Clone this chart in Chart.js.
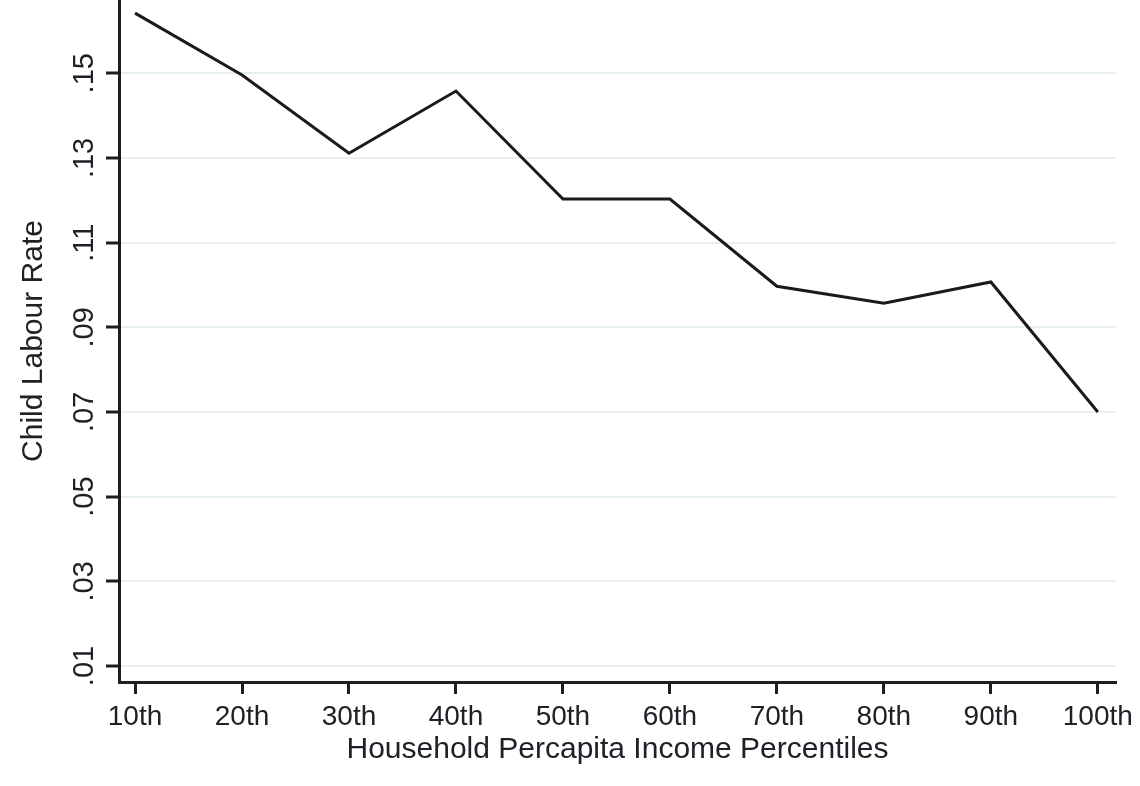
<!DOCTYPE html>
<html>
<head>
<meta charset="utf-8">
<script src="https://cdn.jsdelivr.net/npm/chart.js@4/dist/chart.umd.min.js"></script>
<style>
  html, body { margin: 0; padding: 0; background: #fff; }
  canvas { display: block; }
</style>
</head>
<body>
<canvas id="lineChart" width="1140" height="786"></canvas>
<script>
// data
const percentiles = [10, 20, 30, 40, 50, 60, 70, 80, 90, 100];
const xLabels = ['10th', '20th', '30th', '40th', '50th', '60th', '70th', '80th', '90th', '100th'];
const childLabourRate = [0.1642, 0.1496, 0.1311, 0.1458, 0.1203, 0.1203, 0.0997, 0.0957, 0.1007, 0.0700];
const yTicks = [0.01, 0.03, 0.05, 0.07, 0.09, 0.11, 0.13, 0.15];
const yLabels = ['.01', '.03', '.05', '.07', '.09', '.11', '.13', '.15'];

const textColor = '#202028';
const fontFamily = "'Liberation Sans', Arial, sans-serif";

const ctx = document.getElementById('lineChart').getContext('2d');

const data = {
  datasets: [{
    label: 'Child Labour Rate',
    data: percentiles.map((p, i) => ({ x: p, y: childLabourRate[i] })),
    borderColor: '#1a1a1a',
    borderWidth: 3,
    pointRadius: 0,
    tension: 0,
    fill: false
  }]
};

const config = {
  type: 'line',
  data,
  options: {
    responsive: false,
    animation: false,
    layout: { padding: 0 },
    plugins: {
      legend: { display: false },
      tooltip: { enabled: false }
    },
    scales: {
      x: {
        type: 'linear',
        min: 8.5,
        max: 101.7,
        afterBuildTicks: (scale) => {
          scale.ticks = percentiles.map(v => ({ value: v }));
        },
        afterFit: (scale) => {
          scale.height = 104;
          scale.paddingLeft = 0;
          scale.paddingRight = 24;
        },
        ticks: {
          autoSkip: false,
          maxRotation: 0,
          padding: 6,
          color: textColor,
          font: { family: fontFamily, size: 28 },
          callback: (value) => xLabels[percentiles.indexOf(value)]
        },
        grid: {
          drawOnChartArea: false,
          tickLength: 12,
          tickColor: '#1e1e1e',
          tickWidth: 3
        },
        border: { color: '#1e1e1e', width: 3 },
        title: {
          display: true,
          text: 'Household Percapita Income Percentiles',
          color: textColor,
          font: { family: fontFamily, size: 30 },
          padding: { top: 0, bottom: 18 }
        }
      },
      y: {
        min: 0.00622,
        max: 0.1673,
        afterBuildTicks: (scale) => {
          scale.ticks = yTicks.map(v => ({ value: v }));
        },
        afterFit: (scale) => {
          scale.width = 119;
          scale.paddingTop = 0;
          scale.paddingBottom = 0;
        },
        ticks: {
          autoSkip: false,
          minRotation: 90,
          maxRotation: 90,
          crossAlign: 'center',
          padding: 1,
          color: textColor,
          font: { family: fontFamily, size: 29 },
          callback: (value) => yLabels[yTicks.indexOf(value)]
        },
        grid: {
          color: '#e6eff2',
          lineWidth: 2,
          tickLength: 13,
          tickColor: '#1e1e1e',
          tickWidth: 3
        },
        border: { color: '#1e1e1e', width: 3 },
        title: {
          display: true,
          text: 'Child Labour Rate',
          color: textColor,
          font: { family: fontFamily, size: 30 },
          padding: { top: 16, bottom: 0 }
        }
      }
    }
  }
};

const myChart = new Chart(ctx, config);
</script>
</body>
</html>
